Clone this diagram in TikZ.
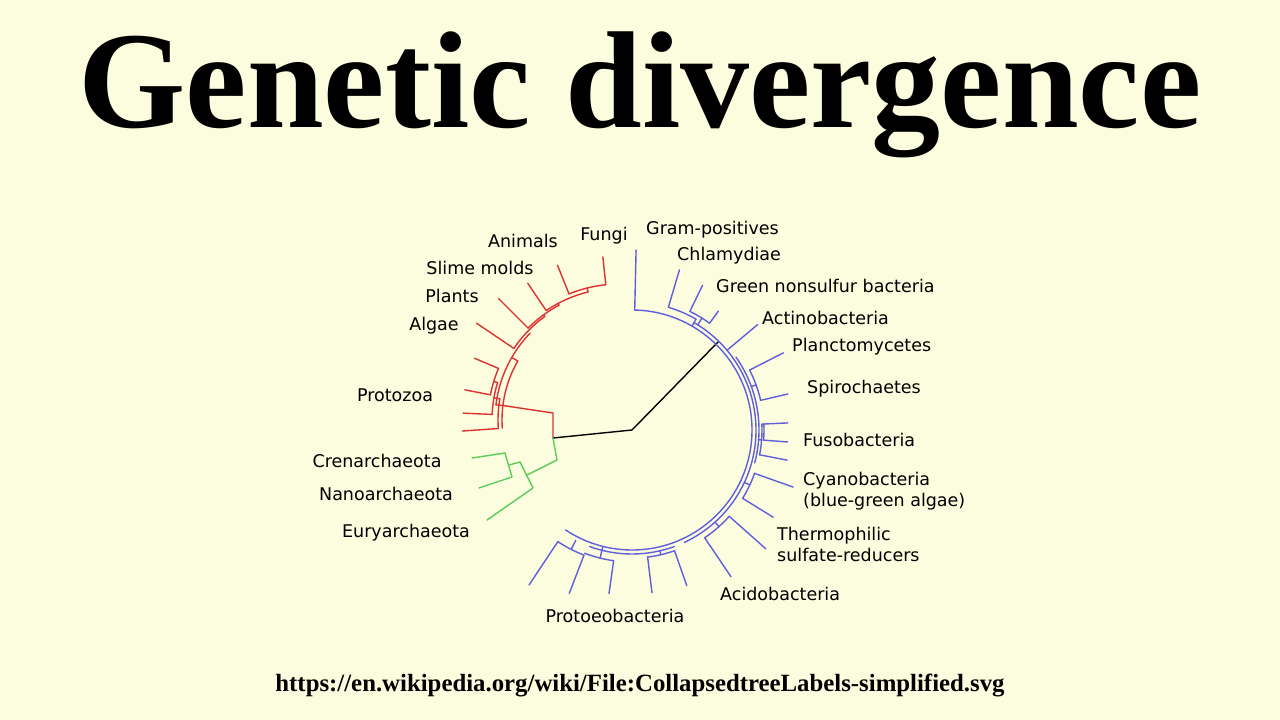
\documentclass[tikz,border=0pt]{standalone}
\usepackage{fontspec}
\setmainfont{Liberation Serif}
\newfontfamily\labelfont{DejaVu Sans}
\usetikzlibrary{positioning}
\definecolor{paper}{RGB}{252,252,222}
\definecolor{euk}{RGB}{220,50,50}
\definecolor{arch}{RGB}{90,205,90}
\definecolor{bact}{RGB}{95,95,220}
\tikzset{
  taxon/.style={font=\labelfont\fontsize{17.5}{21}\selectfont,inner sep=0pt,align=left},
  branch/.style={line width=1.4pt,line cap=round,line join=round}
}

\begin{document}
\begin{tikzpicture}[x=1pt,y=-1pt]

\fill[paper] (0,0) rectangle (1280,720);
\useasboundingbox (0,0) rectangle (1280,720);

\node (title) at (640,95) {\fontsize{138}{140}\selectfont\bfseries Genetic divergence};
\node (source) at (640,685) {\fontsize{24.8}{26}\selectfont\bfseries https://en.wikipedia.org/wiki/File:CollapsedtreeLabels-simplified.svg};

% root
\coordinate (root) at (553,438);
\coordinate (hub) at (632,430);
\coordinate (bactbase) at (718,342);
\draw[branch,black] (root) -- (hub) -- (bactbase);

% Eukaryota
\begin{scope}[shift={(620,420)},yscale=-1,branch,euk]
  \foreach \a/\ri/\ro in {96/136/164,112/136/167,124/132/165,135/130/172,146/128/173,157/132/158,169/132/158,177.5/128/157,184/122/158}
    \draw (\a:\ri) -- (\a:\ro);
  \foreach \r/\a/\b in {136/96/112,132/104/124,130/118/135,128/126/146,125/136/173,132/157/169,128/163/177.5,122/170/184,118/150/184}
    \draw (\a:\r) arc[start angle=\a,end angle=\b,radius=\r];
  \draw (104:132) -- (104:136);
  \draw (118:130) -- (118:132);
  \draw (126:128) -- (126:130);
  \draw (163:128) -- (163:132);
  \draw (170:122) -- (170:128);
  \draw (150:118) -- (150:125);
  \coordinate (eukbase) at (173:114);
  \draw (173:114) -- (173:125);
\end{scope}
\draw[branch,euk] (root) -- (553,413) -- (eukbase);

% Archaea
\draw[branch,arch] (root) -- (557,460) -- (527,475);
\draw[branch,arch] (520,462) -- (533,488) -- (487,520);
\draw[branch,arch] (520,462) -- (509,465);
\draw[branch,arch] (505,453) -- (512,477) -- (479,488);
\draw[branch,arch] (505,453) -- (472,458);

% Bacteria
\begin{scope}[shift={(632,430)},yscale=-1,branch,bact]
  \draw (88.7:120) arc[start angle=88.7,end angle=-123.6,radius=120];
  \draw (60:124) arc[start angle=60,end angle=-65,radius=124];
  \draw (35:127) arc[start angle=35,end angle=-15,radius=127];
  \draw (-70:124) arc[start angle=-70,end angle=-110,radius=124];
  \foreach \a/\ri/\ro in {88.7/120/180,73.5/128/167,64/132/161,54/132/147,40/124/164,27/132/170,13/132/160,2.6/130/156,-4.4/132/156,-11/130/158,-19.5/130/171,-31.7/130/166,-41.6/130/179,-56/130/177,-70.6/128/165,-83/128/164,-98/132/165,-111/134/175,-123.6/134/186}
    \draw (\a:\ri) -- (\a:\ro);
  \foreach \r/\a/\b in {128/73.5/60,132/64/54,132/27/13,130/2.6/-11,132/2.6/-4.4,130/-19.5/-31.7,130/-41.6/-56,128/-70.6/-83,132/-98/-111,134/-111/-123.6}
    \draw (\a:\r) arc[start angle=\a,end angle=\b,radius=\r];
  \foreach \a/\ri/\ro in {60/120/128,58/124/132,20/127/132,-4.4/127/130,-25/124/130,-48/124/130,-77/124/128,-104/120/132,-117/124/134}
    \draw (\a:\ri) -- (\a:\ro);
\end{scope}

% labels
\node[taxon] (animals) at (523,241) {Animals};
\node[taxon] (fungi) at (604,236) {Fungi};
\node[taxon] (slime) at (480,268) {Slime molds};
\node[taxon] (plants) at (452,296) {Plants};
\node[taxon] (algae) at (434,326) {Algae};
\node[taxon] (protozoa) at (395,395) {Protozoa};
\node[taxon] (cren) at (377,461) {Crenarchaeota};
\node[taxon] (nano) at (386,494) {Nanoarchaeota};
\node[taxon] (eury) at (406,533) {Euryarchaeota};
\node[taxon,anchor=west] (gram) at (646,230) {Gram-positives};
\node[taxon,anchor=west] (chlam) at (677,256) {Chlamydiae};
\node[taxon,anchor=west] (greenns) at (716,286) {Green nonsulfur bacteria};
\node[taxon,anchor=west] (actino) at (762,318) {Actinobacteria};
\node[taxon,anchor=west] (plancto) at (792,347) {Planctomycetes};
\node[taxon,anchor=west] (spiro) at (807,389) {Spirochaetes};
\node[taxon,anchor=west] (fuso) at (803,440) {Fusobacteria};
\node[taxon,anchor=west] (cyano) at (803,491) {Cyanobacteria\\(blue-green algae)};
\node[taxon,anchor=west] (thermo) at (777,544) {Thermophilic\\sulfate-reducers};
\node[taxon,anchor=west] (acido) at (720,594) {Acidobacteria};
\node[taxon] (proteo) at (615,616) {Protoeobacteria};

\end{tikzpicture}
\end{document}
